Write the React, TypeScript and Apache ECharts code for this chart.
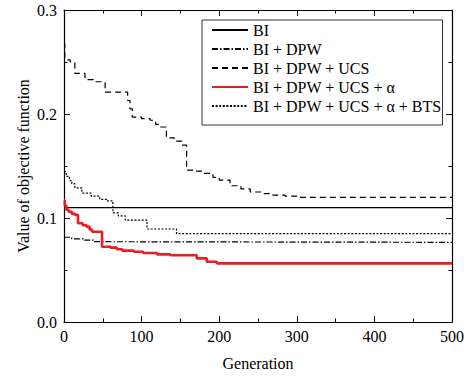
import React, { useEffect, useRef } from "react";
import * as echarts from "echarts";

const seriesNames = [
  "BI",
  "BI + DPW",
  "BI + DPW + UCS",
  "BI + DPW + UCS + α",
  "BI + DPW + UCS + α + BTS",
];

// [generation, value] pairs (step: value holds until next generation)
const biData: [number, number][] = [
  [0, 0.11],
  [500, 0.11],
];

const dpwData: [number, number][] = [
  [0, 0.0815],
  [10, 0.08],
  [25, 0.0788],
  [38, 0.0772],
  [48, 0.0766],
  [500, 0.0766],
];

const ucsData: [number, number][] = [
  [0, 0.268], [1, 0.252], [8, 0.25], [14, 0.239], [27, 0.233], [40, 0.231],
  [53, 0.221], [82, 0.213], [85, 0.205], [88, 0.197], [100, 0.1955],
  [111, 0.194], [118, 0.19], [124, 0.1875], [132, 0.177], [142, 0.174],
  [152, 0.17], [158, 0.146], [170, 0.145], [179, 0.143], [192, 0.139],
  [200, 0.1365], [214, 0.131], [228, 0.128], [240, 0.125], [255, 0.1235],
  [269, 0.122], [285, 0.121], [300, 0.1198], [500, 0.1198],
];

const alphaData: [number, number][] = [
  [0, 0.117], [1, 0.112], [3, 0.108], [6, 0.106], [10, 0.104], [14, 0.103],
  [18, 0.095], [24, 0.093], [29, 0.0917], [33, 0.089], [36, 0.0868],
  [49, 0.0724], [60, 0.0715], [68, 0.07], [75, 0.0686], [90, 0.0675],
  [102, 0.0663], [120, 0.065], [137, 0.0642], [171, 0.0612], [184, 0.058],
  [197, 0.0564], [500, 0.0564],
];

const btsData: [number, number][] = [
  [0, 0.1445], [3, 0.14], [7, 0.136], [10, 0.133], [14, 0.129], [23, 0.124],
  [35, 0.121], [46, 0.118], [55, 0.1165], [63, 0.105], [70, 0.102],
  [79, 0.098], [107, 0.0894], [145, 0.085], [500, 0.085],
];

const FONT = "Liberation Serif";

export default function App() {
  const ref = useRef<HTMLDivElement>(null);

  useEffect(() => {
    if (!ref.current) return;
    const chart = echarts.init(ref.current, undefined, { renderer: "svg" });

    const axisCommon = {
      axisLine: { show: true, onZero: false, lineStyle: { color: "#000", width: 1.2 } },
      axisTick: { show: true, inside: true, length: 6, lineStyle: { color: "#000" } },
      minorTick: { show: true, splitNumber: 2, length: 3.5, lineStyle: { color: "#000" } },
      splitLine: { show: false },
      minorSplitLine: { show: false },
    };

    const mkSeries = (
      name: string,
      data: [number, number][],
      color: string,
      width: number,
      type: any
    ) => ({
      name,
      type: "line",
      data,
      step: "end",
      symbol: "none",
      showSymbol: false,
      lineStyle: { color, width, type },
      itemStyle: { color },
      xAxisIndex: 0,
      yAxisIndex: 0,
      z: name === seriesNames[3] ? 5 : 3,
    });

    const lbl = { color: "#000", fontFamily: FONT, fontSize: 16 };

    chart.setOption({
      animation: false,
      backgroundColor: "#fff",
      textStyle: { fontFamily: FONT },
      grid: { left: 64, right: 22, top: 10, bottom: 58, containLabel: false },
      legend: {
        orient: "vertical",
        left: 202,
        top: 20,
        itemWidth: 36,
        itemHeight: 14,
        itemGap: 3,
        padding: [2, 1, 11, 9],
        borderColor: "#333",
        borderWidth: 1,
        backgroundColor: "#fff",
        itemStyle: { color: "transparent", borderWidth: 0, opacity: 0 },
        textStyle: { fontFamily: FONT, fontSize: 16, color: "#000" },
        data: seriesNames,
      },
      xAxis: [
        {
          type: "value",
          min: 0,
          max: 500,
          interval: 100,
          position: "bottom",
          ...axisCommon,
          axisLabel: { ...lbl, margin: 6 },
          name: "Generation",
          nameLocation: "middle",
          nameGap: 33,
          nameMoveOverlap: false,
          nameTextStyle: { ...lbl },
        },
        {
          type: "value",
          min: 0,
          max: 500,
          interval: 100,
          position: "top",
          ...axisCommon,
          axisLabel: { show: false },
        },
      ],
      yAxis: [
        {
          type: "value",
          min: 0,
          max: 0.3,
          interval: 0.1,
          position: "left",
          ...axisCommon,
          axisLabel: {
            ...lbl,
            margin: 7,
            formatter: (v: number) => v.toFixed(1),
          },
          name: "Value of objective function",
          nameLocation: "middle",
          nameGap: 33,
          nameMoveOverlap: false,
          nameTextStyle: { ...lbl },
        },
        {
          type: "value",
          min: 0,
          max: 0.3,
          interval: 0.1,
          position: "right",
          ...axisCommon,
          axisLabel: { show: false },
        },
      ],
      series: [
        mkSeries(seriesNames[0], biData, "#000", 1.2, "solid"),
        mkSeries(seriesNames[1], dpwData, "#000", 1.2, [6, 2, 1.5, 2]),
        mkSeries(seriesNames[2], ucsData, "#000", 1.2, [6, 4]),
        mkSeries(seriesNames[3], alphaData, "#ec1c24", 2.6, "solid"),
        mkSeries(seriesNames[4], btsData, "#000", 1.2, [2, 1.6]),
      ],
    });

    return () => chart.dispose();
  }, []);

  return <div ref={ref} style={{ width: 474, height: 380, position: "absolute", left: 0, top: 0 }} />;
}
